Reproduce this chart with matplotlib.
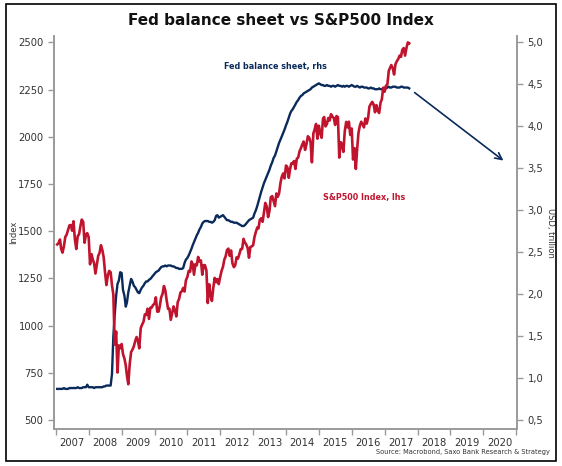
import matplotlib
matplotlib.use("Agg")
import matplotlib.pyplot as plt
import matplotlib.dates as mdates
import pandas as pd

# S&P500 index, two readings per month (mid-month, month-end), Jan 2007 - Sep 2017
sp500 = [
    1430, 1438, 1456, 1407, 1387, 1421, 1470, 1482, 1505, 1531, 1533, 1503,
    1553, 1455, 1406, 1474, 1484, 1527, 1562, 1549, 1439, 1481, 1490, 1468,
    1325, 1379, 1349, 1331, 1276, 1323, 1370, 1386, 1426, 1400, 1360, 1280,
    1215, 1267, 1290, 1283, 1213, 1165, 900, 969, 752, 896, 880, 903,
    850, 826, 790, 735, 690, 798, 860, 873, 890, 919, 940, 919,
    880, 987, 1005, 1021, 1060, 1057, 1090, 1036, 1095, 1096, 1110, 1115,
    1150, 1074, 1075, 1104, 1150, 1169, 1210, 1187, 1135, 1089, 1090, 1031,
    1065, 1102, 1080, 1049, 1125, 1141, 1175, 1183, 1200, 1181, 1240, 1258,
    1290, 1286, 1340, 1327, 1270, 1326, 1320, 1364, 1340, 1345, 1270, 1321,
    1320, 1292, 1120, 1219, 1160, 1131, 1200, 1253, 1230, 1247, 1220, 1258,
    1290, 1312, 1350, 1366, 1400, 1408, 1370, 1398, 1330, 1310, 1320, 1362,
    1355, 1379, 1405, 1407, 1460, 1441, 1430, 1412, 1360, 1416, 1420, 1426,
    1470, 1498, 1520, 1515, 1560, 1569, 1550, 1598, 1650, 1631, 1575, 1606,
    1680, 1686, 1660, 1633, 1700, 1682, 1700, 1757, 1790, 1806, 1780, 1848,
    1840, 1783, 1830, 1859, 1860, 1872, 1830, 1884, 1890, 1924, 1940, 1960,
    1975, 1931, 1960, 2003, 1995, 1972, 1865, 2018, 2040, 2068, 1990, 2059,
    2020, 1995, 2095, 2105, 2055, 2068, 2100, 2086, 2120, 2107, 2100, 2063,
    2110, 2104, 1890, 1972, 1960, 1920, 2030, 2079, 2050, 2080, 2010, 2044,
    1880, 1940, 1830, 1932, 2020, 2060, 2080, 2065, 2050, 2097, 2070, 2099,
    2160, 2174, 2185, 2171, 2130, 2168, 2140, 2126, 2180, 2199, 2260, 2239,
    2270, 2279, 2350, 2364, 2380, 2363, 2330, 2384, 2400, 2412, 2430, 2423,
    2460, 2470, 2430, 2472, 2500, 2495,
]

# Fed balance sheet, USD trillion, same dates
fed = [
    0.87, 0.87, 0.87, 0.87, 0.87, 0.88, 0.87, 0.87, 0.87, 0.88, 0.88, 0.88,
    0.88, 0.88, 0.88, 0.89, 0.88, 0.88, 0.88, 0.89, 0.89, 0.89, 0.92, 0.89,
    0.89, 0.89, 0.89, 0.88, 0.89, 0.89, 0.89, 0.89, 0.89, 0.89, 0.90, 0.90,
    0.91, 0.91, 0.91, 0.91, 1.05, 1.50, 1.75, 1.98, 2.12, 2.16, 2.26, 2.25,
    2.05, 1.98, 1.85, 1.90, 2.02, 2.10, 2.18, 2.15, 2.10, 2.08, 2.05, 2.02,
    2.01, 2.05, 2.08, 2.10, 2.13, 2.15, 2.15, 2.17, 2.18, 2.20, 2.22, 2.24,
    2.26, 2.27, 2.28, 2.30, 2.32, 2.33, 2.33, 2.34, 2.33, 2.34, 2.34, 2.34,
    2.33, 2.33, 2.32, 2.31, 2.31, 2.30, 2.30, 2.30, 2.31, 2.37, 2.41, 2.43,
    2.46, 2.50, 2.54, 2.58, 2.62, 2.66, 2.70, 2.73, 2.77, 2.80, 2.84, 2.86,
    2.87, 2.87, 2.87, 2.86, 2.86, 2.85, 2.86, 2.88, 2.93, 2.94, 2.91, 2.92,
    2.93, 2.94, 2.92, 2.90, 2.88, 2.88, 2.87, 2.86, 2.86, 2.85, 2.85, 2.85,
    2.84, 2.83, 2.82, 2.81, 2.81, 2.82, 2.84, 2.86, 2.88, 2.89, 2.90, 2.91,
    2.96, 3.00, 3.05, 3.10, 3.16, 3.22, 3.27, 3.32, 3.36, 3.40, 3.44, 3.48,
    3.53, 3.57, 3.62, 3.65, 3.70, 3.75, 3.80, 3.84, 3.88, 3.92, 3.96, 4.01,
    4.05, 4.10, 4.15, 4.18, 4.20, 4.23, 4.26, 4.29, 4.31, 4.34, 4.36, 4.37,
    4.39, 4.40, 4.41, 4.42, 4.43, 4.44, 4.46, 4.47, 4.48, 4.49, 4.50, 4.51,
    4.50, 4.49, 4.49, 4.48, 4.48, 4.49, 4.48, 4.48, 4.47, 4.48, 4.48, 4.47,
    4.48, 4.49, 4.48, 4.48, 4.47, 4.48, 4.47, 4.48, 4.48, 4.47, 4.48, 4.49,
    4.48, 4.47, 4.47, 4.48, 4.47, 4.46, 4.47, 4.47, 4.46, 4.46, 4.46, 4.45,
    4.45, 4.46, 4.45, 4.45, 4.44, 4.44, 4.44, 4.45, 4.44, 4.44, 4.45, 4.46,
    4.45, 4.46, 4.47, 4.46, 4.46, 4.47, 4.47, 4.47, 4.46, 4.46, 4.46, 4.47,
    4.47, 4.46, 4.46, 4.46, 4.46, 4.45,
]

months = pd.date_range("2007-01-01", "2017-09-01", freq="MS")
dates = []
for m in months:
    dates.append(m + pd.Timedelta(days=14))
    dates.append(m + pd.offsets.MonthEnd(0))

left_ticks = [500, 750, 1000, 1250, 1500, 1750, 2000, 2250, 2500]
right_ticks = [0.5, 1.0, 1.5, 2.0, 2.5, 3.0, 3.5, 4.0, 4.5, 5.0]

navy = "#0a2a5a"
red = "#c0142e"
grey = "#9a9a9a"
txt = "#333333"

fig = plt.figure(figsize=(5.62, 4.66), dpi=100)
ax = fig.add_axes([0.096, 0.079, 0.824, 0.843])
ax2 = ax.twinx()
ax.set_zorder(ax2.get_zorder() + 1)
ax.patch.set_visible(False)

ax2.plot(dates, fed, color=navy, lw=1.7)
ax.plot(dates, sp500, color=red, lw=1.9)

ax.set_xlim(pd.Timestamp("2006-12-10"), pd.Timestamp("2021-01-10"))
ax.set_ylim(452, 2532)
ax2.set_ylim(0.39, 5.07)

ax.set_yticks(left_ticks)
ax2.set_yticks(right_ticks)
ax2.set_yticklabels([f"{t:.1f}".replace(".", ",") for t in right_ticks])

ax.xaxis.set_major_locator(mdates.YearLocator())
ax.xaxis.set_major_formatter(plt.NullFormatter())
ax.xaxis.set_minor_locator(mdates.MonthLocator(bymonth=7, bymonthday=1))
ax.xaxis.set_minor_formatter(mdates.DateFormatter("%Y"))
ax.tick_params(axis="x", which="minor", length=0, labelsize=7.2, colors=txt, pad=6)
ax.tick_params(axis="x", which="major", length=4, color=grey, width=1)
ax.tick_params(axis="y", length=4, color=grey, width=1, labelsize=7.2, labelcolor=txt)
ax2.tick_params(axis="y", length=4, color=grey, width=1, labelsize=7.2, labelcolor=txt)

for a in (ax, ax2):
    a.spines["top"].set_visible(False)
    for s in ("left", "right", "bottom"):
        a.spines[s].set_color(grey)
        a.spines[s].set_linewidth(1.2)

ax.set_ylabel("Index", fontsize=6, color=txt)
ax.yaxis.set_label_coords(-0.078, 0.5)
ax2.set_ylabel("USD, trillion", fontsize=6, color=txt, rotation=270, va="center")
ax2.yaxis.set_label_coords(1.072, 0.5)

ax.text(pd.Timestamp("2013-09-01"), 2373, "Fed balance sheet, rhs", color=navy,
        fontsize=5.8, fontweight="bold", ha="center", va="center")
ax.text(pd.Timestamp("2016-05-20"), 1680, "S&P500 Index, lhs", color=red,
        fontsize=5.8, fontweight="bold", ha="center", va="center")

ax2.annotate("", xy=(pd.Timestamp("2020-09-05"), 3.57),
             xytext=(pd.Timestamp("2017-11-05"), 4.42),
             arrowprops=dict(arrowstyle="->", color=navy, lw=1.2,
                             mutation_scale=12))

fig.text(0.5, 0.957, "Fed balance sheet vs S&P500 Index", ha="center", va="center",
         fontsize=11, fontweight="bold", color="#111111")
fig.text(0.978, 0.030, "Source: Macrobond, Saxo Bank Research & Strategy",
         ha="right", va="center", fontsize=4.8, color=txt)

border = plt.Rectangle((0.011, 0.011), 0.978, 0.98, transform=fig.transFigure,
                       fill=False, edgecolor="black", lw=1.2)
fig.patches.append(border)

fig.savefig("out.png", dpi=100)
